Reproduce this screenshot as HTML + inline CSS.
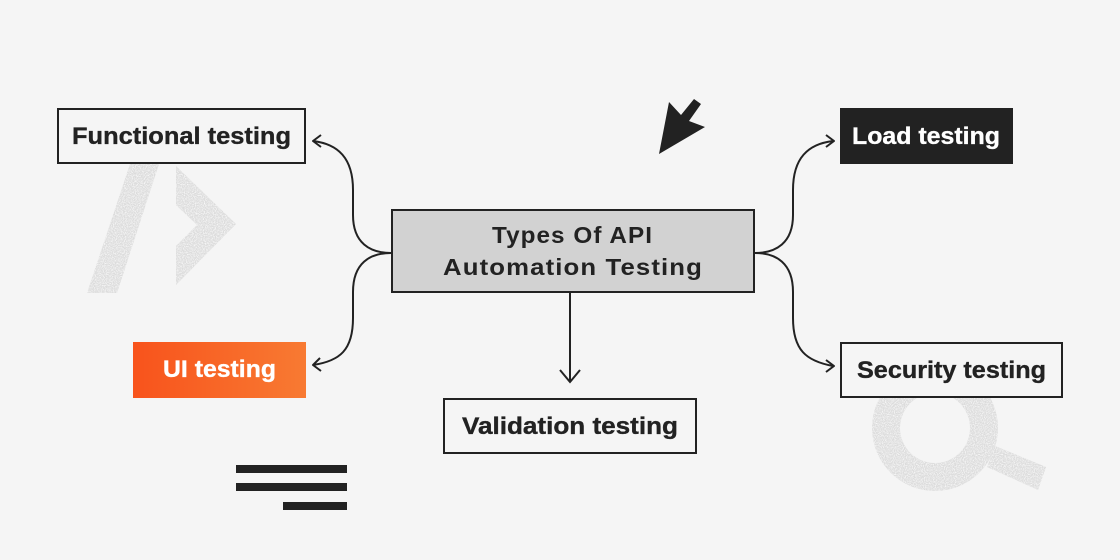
<!DOCTYPE html>
<html>
<head>
<meta charset="utf-8">
<style>
html,body{margin:0;padding:0;background:#f5f5f5;width:1120px;height:560px;overflow:hidden}
svg{display:block}
text{font-family:"Liberation Sans",sans-serif;font-weight:700;fill:#222;stroke:#222;stroke-width:.35}
text.w{fill:#fff;stroke:#fff}
text.c{stroke-width:0;letter-spacing:1px}
</style>
</head>
<body>
<svg width="1120" height="560" viewBox="0 0 1120 560" xmlns="http://www.w3.org/2000/svg">
<defs>
<linearGradient id="g" x1="0" x2="1" y1="0" y2="0"><stop offset="0" stop-color="#f8531c"/><stop offset="1" stop-color="#f87a32"/></linearGradient>
<filter id="n" x="0" y="0" width="100%" height="100%">
<feTurbulence type="fractalNoise" baseFrequency="0.9" numOctaves="2" seed="3"/>
<feColorMatrix values="0 0 0 0 0.96  0 0 0 0 0.96  0 0 0 0 0.96  0 0 0 2.4 -0.95"/>
<feComposite in2="SourceAlpha" operator="in" result="t"/>
<feMerge><feMergeNode in="SourceGraphic"/><feMergeNode in="t"/></feMerge>
</filter>
</defs>
<rect width="1120" height="560" fill="#f5f5f5"/>

<!-- textured decorations -->
<g fill="#dcdcdc" filter="url(#n)">
<polygon points="130,164 159,164 117,293 87,293"/>
<polygon points="176,166 236,224 176,285 176,246 197,225 176,205"/>
<path fill-rule="evenodd" d="M872,428a63,63 0 1,0 126,0a63,63 0 1,0 -126,0zM900,428a35,35 0 1,1 70,0a35,35 0 1,1 -70,0z"/>
<polygon points="995,446 1046,467 1038,490 987,467"/>
</g>

<!-- connectors -->
<g fill="none" stroke="#222" stroke-width="2">
<path d="M391,253 C370,253 353,243 353,215 L353,190 C353,158 338,144 313,141"/>
<path d="M321,135 L313,141 L321,147" stroke-linejoin="round"/>
<path d="M391,253 C370,253 353,263 353,292 L353,318 C353,350 340,361 313,365"/>
<path d="M320,358 L313,365 L321,371" stroke-linejoin="round"/>
<path d="M755,253 C776,253 793,243 793,215 L793,190 C793,158 808,144 833,141"/>
<path d="M826,135 L834,141 L826,147" stroke-linejoin="round"/>
<path d="M755,253 C776,253 793,263 793,292 L793,318 C793,350 806,361 833,366"/>
<path d="M826,360 L834,366 L826,372" stroke-linejoin="round"/>
<path d="M570,293 L570,382"/>
<path d="M560,370 L570,382 L580,370"/>
</g>

<!-- boxes -->
<rect x="58" y="109" width="247" height="54" fill="#f5f5f5" stroke="#222" stroke-width="2"/>
<rect x="840" y="108" width="173" height="56" fill="#222"/>
<rect x="133" y="342" width="173" height="56" fill="url(#g)"/>
<rect x="444" y="399" width="252" height="54" fill="#f5f5f5" stroke="#222" stroke-width="2"/>
<rect x="841" y="343" width="221" height="54" fill="#f5f5f5" stroke="#222" stroke-width="2"/>
<rect x="392" y="210" width="362" height="82" fill="#d2d2d2" stroke="#222" stroke-width="2"/>

<!-- labels -->
<text x="72" y="144" font-size="24" textLength="219" lengthAdjust="spacingAndGlyphs">Functional testing</text>
<text class="w" x="852" y="144" font-size="24" textLength="148" lengthAdjust="spacingAndGlyphs">Load testing</text>
<text class="w" x="163" y="377" font-size="24" textLength="113" lengthAdjust="spacingAndGlyphs">UI testing</text>
<text x="462" y="434" font-size="24" textLength="216" lengthAdjust="spacingAndGlyphs">Validation testing</text>
<text x="857" y="378" font-size="24" textLength="189" lengthAdjust="spacingAndGlyphs">Security testing</text>
<text class="c" x="492" y="243" font-size="23" textLength="161" lengthAdjust="spacingAndGlyphs">Types Of API</text>
<text class="c" x="443" y="275" font-size="23" textLength="260" lengthAdjust="spacingAndGlyphs">Automation Testing</text>

<!-- cursor arrow -->
<polygon fill="#222" points="659,154 669,102 681,115 694,99 701,104 689,121 705,127"/>

<!-- lines -->
<rect x="236" y="465" width="111" height="8" fill="#222"/>
<rect x="236" y="483" width="111" height="8" fill="#222"/>
<rect x="283" y="502" width="64" height="8" fill="#222"/>
</svg>
</body>
</html>
